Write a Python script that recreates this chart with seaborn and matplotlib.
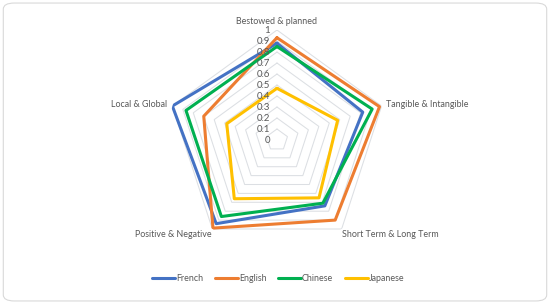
import numpy as np
import pandas as pd
import matplotlib
matplotlib.use("Agg")
import matplotlib.pyplot as plt
from matplotlib.patches import FancyBboxPatch
import seaborn as sns

categories = ["Bestowed & planned", "Tangible & Intangible", "Short Term & Long Term",
              "Positive & Negative", "Local & Global"]
languages = ["French", "English", "Chinese", "Japanese"]
french = [0.88, 0.82, 0.74, 0.94, 1.00]
english = [0.93, 0.98, 0.90, 0.99, 0.70]
chinese = [0.85, 0.91, 0.71, 0.86, 0.87]
japanese = [0.47, 0.58, 0.65, 0.66, 0.48]
tick_values = [0, 0.1, 0.2, 0.3, 0.4, 0.5, 0.6, 0.7, 0.8, 0.9, 1.0]
tick_labels = ["0", "0.1", "0.2", "0.3", "0.4", "0.5", "0.6", "0.7", "0.8", "0.9", "1"]
colors = ["#4472C4", "#ED7D31", "#00B050", "#FFC000"]

sns.set_theme(style="white")
plt.rcParams["font.family"] = ["Lato", "DejaVu Sans"]
txt_color = "#595959"
fs = 6.4

n = len(categories)
angles = np.linspace(0, 2 * np.pi, n, endpoint=False)
closed_angles = np.append(angles, 2 * np.pi)

rows = []
for lang, vals in zip(languages, [french, english, chinese, japanese]):
    for th, v in zip(closed_angles, list(vals) + [vals[0]]):
        rows.append({"theta": th, "value": v, "Language": lang})
df = pd.DataFrame(rows)

fig = plt.figure(figsize=(5.5, 3.04), dpi=100)
fig.patch.set_facecolor("white")
border = FancyBboxPatch((0.006, 0.01), 0.988, 0.98, boxstyle="round,pad=0,rounding_size=0.02",
                        transform=fig.transFigure, facecolor="none", edgecolor="#D9D9D9",
                        linewidth=0.8, zorder=-10)
fig.patches.append(border)

ax = fig.add_axes([0.3036, 0.1776, 0.4, 0.7237], projection="polar")
ax.set_facecolor("none")
ax.set_theta_offset(np.pi / 2)
ax.set_theta_direction(-1)

# pentagonal grid
for r in tick_values[1:]:
    ax.plot(closed_angles, [r] * len(closed_angles), color="#DCDFE3", lw=0.75, zorder=1)

sns.lineplot(data=df, x="theta", y="value", hue="Language", hue_order=languages,
             palette=colors, sort=False, estimator=None, lw=2.2, ax=ax, zorder=3,
             legend=True)

ax.set_ylim(0, 1)
ax.grid(False)
ax.spines["polar"].set_visible(False)
ax.set_xticks([])
ax.set_yticks([])
ax.set_xlabel("")
ax.set_ylabel("")

for v, lab in zip(tick_values, tick_labels):
    ax.annotate(lab, xy=(0, v), xytext=(-5, 0), textcoords="offset points",
                ha="right", va="center", fontsize=fs + 0.6, color=txt_color)

label_cfg = [
    (1.04, "center", "bottom"),
    (1.04, "left", "center"),
    (1.01, "left", "top"),
    (1.01, "right", "top"),
    (1.05, "right", "center"),
]
for th, cat, (r, ha, va) in zip(angles, categories, label_cfg):
    ax.text(th, r, cat, ha=ha, va=va, fontsize=fs, color=txt_color)

handles, labels = ax.get_legend_handles_labels()
if ax.get_legend() is not None:
    ax.get_legend().remove()
fig.legend(handles, labels, loc="center", bbox_to_anchor=(0.506, 0.085), ncol=4,
           frameon=False, fontsize=fs, handlelength=2.6, handletextpad=0.1,
           columnspacing=1.3, labelcolor=txt_color)

fig.savefig("out.png", dpi=100)
